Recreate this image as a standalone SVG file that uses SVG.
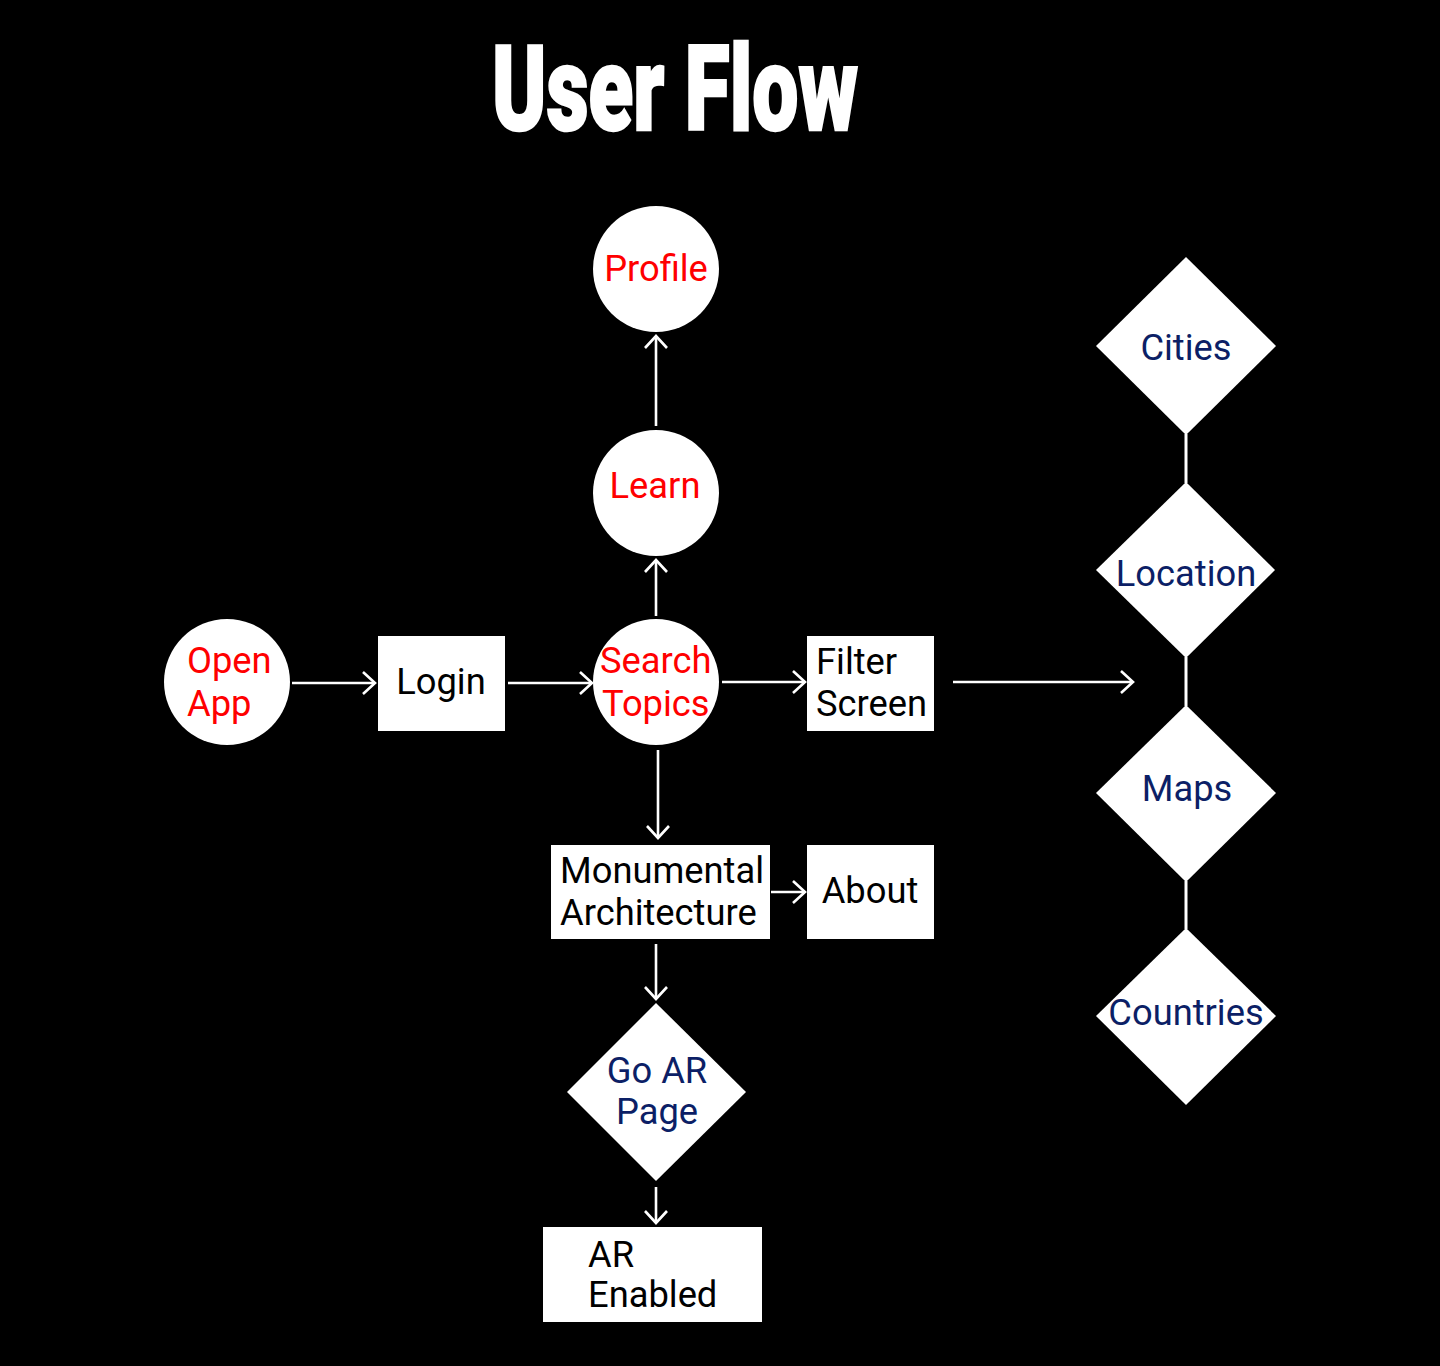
<svg xmlns="http://www.w3.org/2000/svg" width="1440" height="1366" viewBox="0 0 1440 1366">
<defs>
<marker id="arr" markerUnits="userSpaceOnUse" viewBox="-14 -13 16 26" refX="0" refY="0" markerWidth="16" markerHeight="26" orient="auto">
<path d="M-12,-11 L0,0 L-12,11" fill="none" stroke="#fff" stroke-width="2.6"/>
</marker>
</defs>
<style>
.bg{fill:#000}
.shape{fill:#fff}
.t{font-family:Roboto,"Liberation Sans",sans-serif;font-size:36.3px}
.red{fill:#ff0000}
.blk{fill:#000}
.navy{fill:#0c1f66}
.c{text-anchor:middle}
.ln{stroke:#fff;stroke-width:3;fill:none}
.ar{stroke:#fff;stroke-width:2.6;fill:none;marker-end:url(#arr)}
</style>
<rect class="bg" x="0" y="0" width="1440" height="1366"/>
<text x="492" y="130" textLength="366" lengthAdjust="spacingAndGlyphs" style="font-family:Roboto,'Liberation Sans',sans-serif;font-weight:900;font-size:118px;fill:#fff;stroke:#fff;stroke-width:2.5">User Flow</text>

<g id="connectors">
<line class="ar" x1="292" y1="683" x2="375" y2="683"/>
<line class="ar" x1="508" y1="683" x2="592" y2="683"/>
<line class="ar" x1="722" y1="682" x2="805" y2="682"/>
<line class="ar" x1="953" y1="682" x2="1133" y2="682"/>
<line class="ar" x1="656" y1="616" x2="656" y2="560"/>
<line class="ar" x1="656" y1="426" x2="656" y2="336"/>
<line class="ar" x1="658" y1="750" x2="658" y2="838"/>
<line class="ar" x1="771" y1="892" x2="805" y2="892"/>
<line class="ar" x1="656" y1="944" x2="656" y2="999"/>
<line class="ar" x1="656" y1="1187" x2="656" y2="1223"/>
<line class="ln" x1="1186" y1="434" x2="1186" y2="483"/>
<line class="ln" x1="1186" y1="657" x2="1186" y2="706"/>
<line class="ln" x1="1186" y1="881" x2="1186" y2="929"/>
</g>

<g id="open-app">
<circle class="shape" cx="227" cy="682" r="63"/>
<text class="t red" x="187" y="673">Open</text>
<text class="t red" x="187" y="716">App</text>
</g>
<g id="login">
<rect class="shape" x="378" y="636" width="127" height="95"/>
<text class="t blk c" x="441" y="694">Login</text>
</g>
<g id="search-topics">
<circle class="shape" cx="656" cy="682" r="63"/>
<text class="t red" x="600" y="673">Search</text>
<text class="t red" x="602" y="716">Topics</text>
</g>
<g id="learn">
<circle class="shape" cx="656" cy="493" r="63"/>
<text class="t red c" x="655" y="498">Learn</text>
</g>
<g id="profile">
<circle class="shape" cx="656" cy="269" r="63"/>
<text class="t red c" x="656" y="281">Profile</text>
</g>
<g id="filter-screen">
<rect class="shape" x="807" y="636" width="127" height="95"/>
<text class="t blk" x="816" y="674">Filter</text>
<text class="t blk" x="816" y="716">Screen</text>
</g>
<g id="monumental-architecture">
<rect class="shape" x="551" y="845" width="219" height="94"/>
<text class="t blk" x="560" y="883">Monumental</text>
<text class="t blk" x="560" y="925">Architecture</text>
</g>
<g id="about">
<rect class="shape" x="807" y="845" width="127" height="94"/>
<text class="t blk c" x="870" y="903">About</text>
</g>
<g id="go-ar-page">
<polygon class="shape" points="656,1003 746,1092 656,1181 567,1092"/>
<text class="t navy c" x="657" y="1083">Go AR</text>
<text class="t navy c" x="657" y="1124">Page</text>
</g>
<g id="ar-enabled">
<rect class="shape" x="543" y="1227" width="219" height="95"/>
<text class="t blk" x="588" y="1267">AR</text>
<text class="t blk" x="588" y="1307">Enabled</text>
</g>
<g id="cities">
<polygon class="shape" points="1186,257 1276,346 1186,435 1096,346"/>
<text class="t navy c" x="1186" y="360">Cities</text>
</g>
<g id="location">
<polygon class="shape" points="1186,482 1275,570 1186,658 1096,570"/>
<text class="t navy c" x="1186" y="586">Location</text>
</g>
<g id="maps">
<polygon class="shape" points="1186,705 1276,793 1186,882 1096,793"/>
<text class="t navy c" x="1187" y="801">Maps</text>
</g>
<g id="countries">
<polygon class="shape" points="1186,928 1276,1016 1186,1105 1096,1016"/>
<text class="t navy c" x="1186" y="1025">Countries</text>
</g>
</svg>
